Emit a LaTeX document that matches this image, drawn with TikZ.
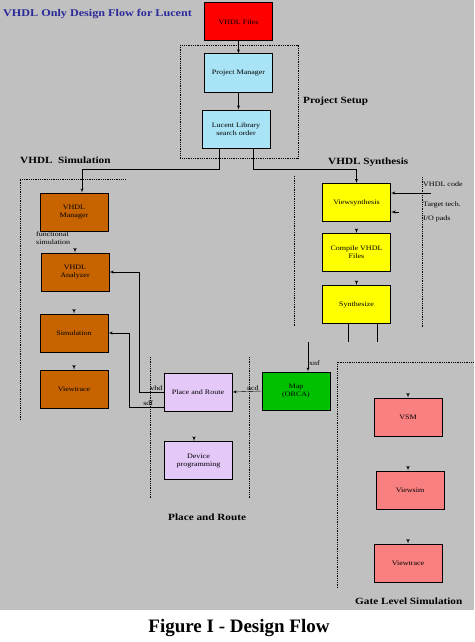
\documentclass[tikz,border=0pt]{standalone}
\usepackage{fontspec}
\setmainfont{Liberation Serif}
\newfontfamily\widefont[FakeStretch=1.18]{Liberation Serif}
\usetikzlibrary{arrows, positioning, calc}
\definecolor{bggray}{HTML}{C0C0C0}
\definecolor{titleblue}{HTML}{2A2A9A}
\definecolor{filered}{HTML}{FF0000}
\definecolor{setupcyan}{HTML}{A8E4F6}
\definecolor{simorange}{HTML}{C86400}
\definecolor{synyellow}{HTML}{FFFF00}
\definecolor{mapgreen}{HTML}{00C000}
\definecolor{parlilac}{HTML}{E4C8F8}
\definecolor{gatepink}{HTML}{F88080}
\tikzset{block/.style={draw, rectangle, line width=1pt, minimum height=38pt, minimum width=68pt,
             align=center, font=\widefont\fontsize{6.8}{8}\selectfont, inner sep=1pt},
         region/.style={densely dotted, line width=0.8pt},
         heading/.style={font=\widefont\fontsize{9.5}{11}\selectfont\bfseries, anchor=west, inner sep=0pt},
         lbl/.style={font=\widefont\fontsize{6.8}{8}\selectfont, inner sep=1pt},
         stub/.style={->, >=latex', line width=0.6pt},
         >=latex'}
\begin{document}
\begin{tikzpicture}[x=1pt, y=-1pt, node distance=21pt]
        \useasboundingbox (0,0) rectangle (474,642);
        \fill[bggray] (0,0) rectangle (474,610);

        % title and caption
        \node[anchor=west, inner sep=0pt, text=titleblue, font=\widefont\fontsize{10.3}{11}\selectfont\bfseries] (title) at (3,14) {VHDL Only Design Flow for Lucent};
        \node[inner sep=0pt, font=\fontsize{19}{21}\selectfont\bfseries] (caption) at (239,628) {Figure I - Design Flow};

        % project setup
        \node[block, fill=filered] (files) at (238.5,22) {VHDL Files};
        \node[block, fill=setupcyan] (pm) at (238.5,73) {Project Manager};
        \node[block, fill=setupcyan] (lib) at (236,129) {Lucent Library\\search order};
        \draw[region] (180,45) rectangle (298,158);
        \node[heading] (setup) at (303,101) {Project Setup};

        \draw[->] (files) -- (pm);
        \draw[->] (pm.south) -- (pm.south |- lib.north);

        % VHDL simulation
        \node[heading] (simhead) at (20,160) {VHDL~~Simulation};
        \draw[region] (20,420) -- (20,179) -- (125,179);
        \node[block, fill=simorange] (vman) at (74,212) {VHDL\\Manager};
        \node[block, fill=simorange, below=of vman, xshift=1pt] (vana) {VHDL\\Analyzer};
        \node[block, fill=simorange, below=22pt of vana, xshift=-1pt] (vsim) {Simulation};
        \node[block, fill=simorange, below=17pt of vsim] (vtr) {Viewtrace};
        \node[lbl, anchor=north west, align=left] (func) at (35,231) {functional\\simulation};

        \draw[stub] ([yshift=4pt]vana.north) -- (vana.north);
        \draw[stub] ([yshift=4pt]vsim.north) -- (vsim.north);
        \draw[stub] ([yshift=4pt]vtr.north) -- (vtr.north);

        % VHDL synthesis
        \node[heading] (synhead) at (328,162) {VHDL Synthesis};
        \draw[region] (294,176) -- (294,326);
        \draw[region] (422,177) -- (422,328);
        \node[block, fill=synyellow] (vsyn) at (356.5,202.5) {Viewsynthesis};
        \node[block, fill=synyellow, below=11pt of vsyn] (comp) {Compile VHDL\\Files};
        \node[block, fill=synyellow, below=13pt of comp] (synth) {Synthesize};
        \node[lbl, anchor=west] (vcodelbl) at (422,184) {VHDL code};
        \node[lbl, anchor=west] (techlbl) at (422,205) {Target tech.};
        \node[lbl, anchor=west] (padlbl) at (422,219) {I/O pads};

        \coordinate (vcode) at (431,193);
        \coordinate (tech) at (399,212);
        \draw[->] (vcode) -- (vcode -| vsyn.east);
        \draw[stub] (tech) -- (tech -| vsyn.east);
        \draw[stub] ([yshift=4pt]comp.north) -- (comp.north);
        \draw[stub] ([yshift=4pt]synth.north) -- (synth.north);

        % setup to simulation and synthesis
        \draw[->] ([xshift=-17pt]lib.south) -- ++(0,21) -| ([xshift=8pt]vman.north);
        \draw[->] ([xshift=17pt]lib.south) -- ++(0,21) -| (vsyn.north);

        % synthesis outputs
        \coordinate (synout1) at ($(synth.south)+(-8.5,18)$);
        \coordinate (synout2) at ($(synth.south)+(20.5,18)$);
        \draw ([xshift=-8.5pt]synth.south) -- (synout1);
        \draw ([xshift=20.5pt]synth.south) -- (synout2);

        % place and route
        \draw[region] (150,357) -- (150,498);
        \draw[region] (249,357) -- (249,498);
        \node[block, fill=mapgreen] (map) at (296,391) {Map\\(ORCA)};
        \node[block, fill=parlilac] (par) at (198,392) {Place and Route};
        \node[block, fill=parlilac] (dev) at (198.5,460.5) {Device\\programming};
        \node[heading] (parhead) at (168,517) {Place and Route};

        \coordinate (mapin) at (308,342);
        \draw[->] (mapin) -- (mapin |- map.north) node[lbl, pos=0.7, right] {xnf};
        \draw[->] (map.west) -- (par.east) node[lbl, pos=0.3, above] {ncd};
        \draw[->] (par.west) -- ++(-24,0) node[lbl, pos=0.3, above] {vhd} |- (vana.east);
        \draw[->] ([yshift=-15pt]par.west) -- ++(-34,0) node[lbl, pos=0.45, above] {sdf} |- (vsim.east);
        \draw[stub] ([xshift=-4.5pt, yshift=4pt]dev.north) -- ([xshift=-4.5pt]dev.north);

        % gate level simulation
        \draw[region] (337,588) -- (337,362) -- (474,362);
        \node[block, fill=gatepink] (vsm) at (408,417) {VSM};
        \node[block, fill=gatepink] (vsim2) at (410,490) {Viewsim};
        \node[block, fill=gatepink] (vtr2) at (408,563) {Viewtrace};
        \node[heading] (gatehead) at (355,601) {Gate Level Simulation};

        \draw[stub] ([yshift=4pt]vsm.north) -- (vsm.north);
        \draw[stub] ([xshift=-2pt, yshift=4pt]vsim2.north) -- ([xshift=-2pt]vsim2.north);
        \draw[stub] ([yshift=4pt]vtr2.north) -- (vtr2.north);
\end{tikzpicture}
\end{document}
